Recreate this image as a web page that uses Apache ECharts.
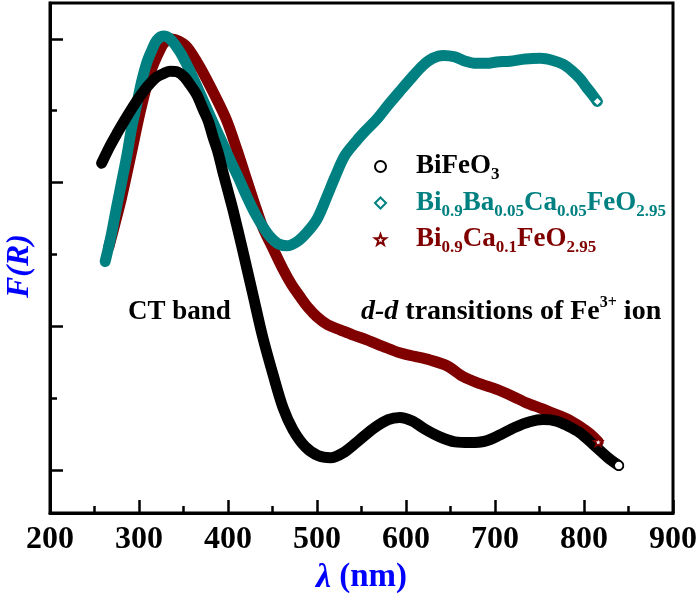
<!DOCTYPE html>
<html>
<head>
<meta charset="utf-8">
<script src="https://cdn.jsdelivr.net/npm/echarts@6/dist/echarts.min.js"></script>
<style>
  html, body { margin: 0; padding: 0; background: #fff; }
  #chart { width: 700px; height: 594px; }
</style>
</head>
<body>
<div id="chart"></div>
<script>
// wavelength (nm) and F(R) in arbitrary units (1 unit = one minor tick)
const blackWave = [258, 267, 276, 284, 293, 301, 311, 320, 328, 335, 343, 351, 357, 365, 372, 378, 383, 389, 394, 400,
  406, 417, 428, 439, 451, 462, 473, 487, 501, 515, 531, 548, 565, 580, 593, 607, 621, 638, 655, 672,
  689, 706, 722, 739, 754, 769, 782, 795, 810, 826, 839];
const blackVal = [4.27, 4.50, 4.70, 4.87, 5.05, 5.20, 5.36, 5.47, 5.52, 5.55, 5.54, 5.47, 5.37, 5.22, 5.02, 4.85, 4.64, 4.41, 4.16, 3.88,
  3.60, 3.03, 2.44, 1.85, 1.31, 0.86, 0.56, 0.32, 0.20, 0.17, 0.25, 0.42, 0.59, 0.70, 0.73, 0.68, 0.57, 0.46, 0.39, 0.38,
  0.40, 0.49, 0.59, 0.67, 0.70, 0.68, 0.61, 0.52, 0.36, 0.18, 0.06];

const tealWave = [262, 269, 275, 281, 287, 292, 298, 303, 309, 315, 320, 327, 335, 346, 355, 365, 374, 383, 393, 402,
  412, 421, 430, 439, 447, 456, 466, 478, 489, 500, 510, 520, 531, 545, 556, 567, 580, 593, 607, 619,
  630, 642, 655, 667, 679, 691, 702, 717, 734, 751, 765, 776, 787, 796, 802, 809, 815];
const tealVal = [2.90, 3.28, 3.67, 4.04, 4.42, 4.78, 5.12, 5.41, 5.68, 5.86, 5.98, 6.04, 6.00, 5.82, 5.61, 5.34, 5.09, 4.84, 4.57, 4.32,
  4.06, 3.81, 3.58, 3.39, 3.25, 3.15, 3.12, 3.18, 3.31, 3.49, 3.77, 4.07, 4.37, 4.59, 4.74, 4.88, 5.08, 5.27, 5.47, 5.63,
  5.73, 5.77, 5.75, 5.69, 5.66, 5.66, 5.68, 5.69, 5.72, 5.73, 5.70, 5.65, 5.55, 5.44, 5.34, 5.23, 5.13];

const redWave = [266, 280, 291, 302, 313, 324, 330, 337, 352, 365, 380, 398, 410, 421, 430, 439, 451, 462, 471, 481,
  490, 500, 512, 526, 540, 556, 574, 593, 610, 627, 646, 664, 683, 702, 719, 736, 751, 765, 781, 796,
  807, 816];
const redVal = [3.10, 3.77, 4.39, 5.02, 5.54, 5.86, 5.97, 6.00, 5.91, 5.68, 5.34, 4.88, 4.46, 4.04, 3.70, 3.38, 3.07, 2.79, 2.59, 2.41,
  2.26, 2.13, 2.02, 1.95, 1.88, 1.81, 1.72, 1.63, 1.58, 1.53, 1.45, 1.30, 1.20, 1.12, 1.03, 0.93, 0.86, 0.79, 0.71, 0.60,
  0.50, 0.39];

const seriesNames = ['BiFeO3', 'Bi0.9Ba0.05Ca0.05FeO2.95', 'Bi0.9Ca0.1FeO2.95'];
const yMajorTicks = [0, 2, 4, 6];
const yMinorTicks = [1, 3, 5];

const BLACK = '#000000', TEAL = '#008080', RED = '#800000', BLUE = '#0000ff';
const FONT = '"Liberation Serif", "Times New Roman", serif';
const STAR = 'path://M0,-10L2.35,-3.24L9.51,-3.09L3.8,1.24L5.88,8.09L0,4L-5.88,8.09L-3.8,1.24L-9.51,-3.09L-2.35,-3.24Z';

const pairs = (xs, ys) => xs.map((x, i) => [x, ys[i]]);

const legendText = {
  'BiFeO3': '{m0|BiFeO}{s0|3}',
  'Bi0.9Ba0.05Ca0.05FeO2.95': '{m1|Bi}{s1|0.9}{m1|Ba}{s1|0.05}{m1|Ca}{s1|0.05}{m1|FeO}{s1|2.95}',
  'Bi0.9Ca0.1FeO2.95': '{m2|Bi}{s2|0.9}{m2|Ca}{s2|0.1}{m2|FeO}{s2|2.95}'
};
const mainStyle = c => ({ fontFamily: FONT, fontWeight: 'bold', fontSize: 27, color: c, lineHeight: 34 });
const subStyle = c => ({ fontFamily: FONT, fontWeight: 'bold', fontSize: 17, color: c, lineHeight: 8, verticalAlign: 'bottom' });

function curve(name, xs, ys, color, symbol) {
  const n = xs.length;
  return {
    name: name,
    type: 'line',
    data: pairs(xs, ys),
    smooth: 0.3,
    symbol: symbol,
    showSymbol: true,
    showAllSymbol: true,
    symbolSize: (v, p) => (p.dataIndex === n - 1 ? 9 : 0),
    lineStyle: { color: color, width: 11, cap: 'round', join: 'round' },
    itemStyle: { color: '#fff', borderColor: color, borderWidth: 1.5 },
    emphasis: { disabled: true },
    z: 2
  };
}

const chart = echarts.init(document.getElementById('chart'));
chart.setOption({
  animation: false,
  grid: {
    left: 50, right: 27, top: 3, bottom: 81,
    outerBoundsMode: 'none', containLabel: false,
    show: true, borderColor: BLACK, borderWidth: 3
  },
  legend: {
    orient: 'vertical',
    left: 374,
    top: 153,
    padding: 0,
    itemGap: 6,
    itemWidth: 11,
    itemHeight: 11,
    symbolKeepAspect: true,
    data: [
      { name: seriesNames[0], icon: 'circle' },
      { name: seriesNames[1], icon: 'diamond' },
      { name: seriesNames[2], icon: STAR }
    ],
    formatter: name => legendText[name],
    textStyle: {
      padding: [0, 0, 0, 25],
      rich: {
        m0: mainStyle(BLACK), s0: subStyle(BLACK),
        m1: mainStyle(TEAL), s1: subStyle(TEAL),
        m2: mainStyle(RED), s2: subStyle(RED)
      }
    }
  },
  xAxis: {
    type: 'value',
    min: 200,
    max: 900,
    interval: 100,
    name: '{i|λ}{n| (nm)}',
    nameLocation: 'middle',
    nameGap: 42,
    nameTextStyle: {
      rich: {
        i: { fontFamily: FONT, fontWeight: 'bold', fontStyle: 'italic', fontSize: 34, color: BLUE },
        n: { fontFamily: FONT, fontWeight: 'bold', fontSize: 33, color: BLUE }
      }
    },
    axisLine: { onZero: false, lineStyle: { color: BLACK, width: 3 } },
    axisTick: { inside: true, length: 13, lineStyle: { color: BLACK, width: 2.5 } },
    minorTick: { show: true, splitNumber: 2, length: 7, lineStyle: { color: BLACK, width: 2.5 } },
    axisLabel: { margin: 11, fontFamily: FONT, fontWeight: 'bold', fontSize: 32, color: BLACK },
    splitLine: { show: false }
  },
  yAxis: [
    {
      type: 'value',
      min: -0.6,
      max: 6.5,
      name: 'F(R)',
      nameLocation: 'middle',
      nameGap: 14,
      nameTextStyle: { fontFamily: FONT, fontWeight: 'bold', fontStyle: 'italic', fontSize: 32, color: BLUE, padding: [0, 16, 0, 0] },
      axisLine: { show: true, onZero: false, lineStyle: { color: BLACK, width: 3 } },
      axisTick: { show: true, inside: true, length: 13, customValues: yMajorTicks, lineStyle: { color: BLACK, width: 2.5 } },
      axisLabel: { show: false },
      splitLine: { show: false }
    },
    {
      type: 'value',
      min: -0.6,
      max: 6.5,
      position: 'left',
      axisLine: { show: false },
      axisTick: { show: true, inside: true, length: 7, customValues: yMinorTicks, lineStyle: { color: BLACK, width: 2.5 } },
      axisLabel: { show: false },
      splitLine: { show: false }
    }
  ],
  graphic: [
    {
      type: 'text', left: 128, top: 299,
      style: {
        text: 'CT band',
        font: 'bold 27px ' + FONT,
        fill: BLACK
      }
    },
    {
      type: 'text', left: 361, top: 295,
      style: {
        text: '{it|d-d}{m| transitions of Fe}{sup|3+}{m| ion}',
        rich: {
          it: { fontFamily: FONT, fontWeight: 'bold', fontStyle: 'italic', fontSize: 28, lineHeight: 34, color: BLACK },
          m: { fontFamily: FONT, fontWeight: 'bold', fontSize: 28, lineHeight: 34, color: BLACK },
          sup: { fontFamily: FONT, fontWeight: 'bold', fontSize: 16, lineHeight: 4, verticalAlign: 'top', color: BLACK }
        }
      }
    }
  ],
  series: [
    curve(seriesNames[2], redWave, redVal, RED, STAR),
    curve(seriesNames[1], tealWave, tealVal, TEAL, 'diamond'),
    curve(seriesNames[0], blackWave, blackVal, BLACK, 'circle')
  ]
});
</script>
</body>
</html>
